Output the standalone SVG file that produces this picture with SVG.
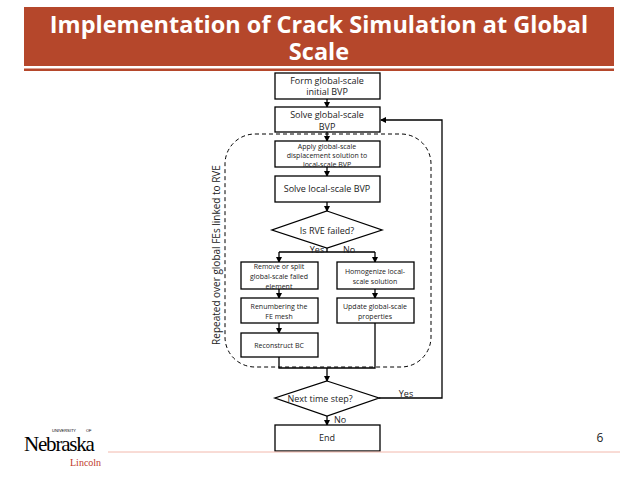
<svg xmlns="http://www.w3.org/2000/svg" width="638" height="478" viewBox="0 0 638 478">
<style>
.b{fill:#fff;stroke:#000;stroke-width:1.3}
.t{font-family:"Open Sans","Liberation Sans",sans-serif;fill:#222;text-anchor:middle}
.l{stroke:#000;stroke-width:1.3;fill:none}
</style>
<defs><marker id="a" markerWidth="6" markerHeight="6" refX="5" refY="3" orient="auto" markerUnits="userSpaceOnUse"><path d="M0,0L6,3L0,6z" fill="#000"/></marker></defs>
<rect width="638" height="478" fill="#fff"/>
<rect x="24" y="7" width="590" height="59" fill="#b5472b"/>
<rect x="24" y="68.5" width="590" height="2.5" fill="#b5472b"/>
<text x="319" y="33" font-family="'Open Sans','Liberation Sans',sans-serif" font-weight="bold" font-size="23.5" fill="#fff" text-anchor="middle">Implementation of Crack Simulation at Global</text>
<text x="319" y="60" font-family="'Open Sans','Liberation Sans',sans-serif" font-weight="bold" font-size="23.5" fill="#fff" text-anchor="middle">Scale</text>
<rect x="225" y="134" width="206" height="233" rx="30" fill="none" stroke="#000" stroke-dasharray="4,3"/>
<text transform="translate(220,255) rotate(-90)" class="t" font-size="10">Repeated over global FEs linked to RVE</text>
<g id="connectors">
<path class="l" d="M327,99V107" marker-end="url(#a)"/>
<path class="l" d="M327,132V141" marker-end="url(#a)"/>
<path class="l" d="M327,167V176" marker-end="url(#a)"/>
<path class="l" d="M327,202V211" marker-end="url(#a)"/>
<path class="l" d="M327,248V252M279,252H375"/>
<path class="l" d="M279,252V262" marker-end="url(#a)"/>
<path class="l" d="M375,252V262" marker-end="url(#a)"/>
<path class="l" d="M279,289V298" marker-end="url(#a)"/>
<path class="l" d="M375,289V298" marker-end="url(#a)"/>
<path class="l" d="M279,323V333" marker-end="url(#a)"/>
<path class="l" d="M279,357V368H375V323"/>
<path class="l" d="M327,368V381" marker-end="url(#a)"/>
<path class="l" d="M379,398H442V120H381" marker-end="url(#a)"/>
<path class="l" d="M327,416V425" marker-end="url(#a)"/>
<text x="317" y="253" class="t" font-size="9">Yes</text>
<text x="349" y="253" class="t" font-size="9">No</text>
<text x="406" y="397" class="t" font-size="9">Yes</text>
<text x="340" y="423" class="t" font-size="9">No</text>
</g>
<g id="form"><rect class="b" x="275" y="73" width="105" height="26"/><text class="t" x="327" y="84" font-size="9">Form global-scale</text><text class="t" x="327" y="95" font-size="9">initial BVP</text></g>
<g id="solveg"><rect class="b" x="275" y="107" width="105" height="25"/><text class="t" x="327" y="118" font-size="9">Solve global-scale</text><text class="t" x="327" y="129.5" font-size="9">BVP</text></g>
<g id="apply"><rect class="b" x="275" y="141" width="105" height="26"/><text class="t" x="327" y="149" font-size="7">Apply global-scale</text><text class="t" x="327" y="158" font-size="7">displacement solution to</text><text class="t" x="327" y="167" font-size="7">local-scale BVP</text></g>
<g id="solvel"><rect class="b" x="275" y="176" width="105" height="26"/><text class="t" x="327" y="192" font-size="9">Solve local-scale BVP</text></g>
<g id="rve"><path class="b" d="M327,211L382,230L327,248L272,230Z"/><text class="t" x="327" y="234" font-size="9">Is RVE failed?</text></g>
<g id="remove"><rect class="b" x="241" y="262" width="77" height="27"/><text class="t" x="279" y="269" font-size="7">Remove or split</text><text class="t" x="279" y="279" font-size="7">global-scale failed</text><text class="t" x="279" y="289" font-size="7">element</text></g>
<g id="homog"><rect class="b" x="337" y="262" width="77" height="27"/><text class="t" x="375" y="274" font-size="7">Homogenize local-</text><text class="t" x="375" y="284" font-size="7">scale solution</text></g>
<g id="renum"><rect class="b" x="241" y="298" width="77" height="25"/><text class="t" x="279" y="309" font-size="7">Renumbering the</text><text class="t" x="279" y="319" font-size="7">FE mesh</text></g>
<g id="update"><rect class="b" x="337" y="298" width="77" height="25"/><text class="t" x="375" y="309" font-size="7">Update global-scale</text><text class="t" x="375" y="319" font-size="7">properties</text></g>
<g id="recon"><rect class="b" x="241" y="333" width="77" height="24"/><text class="t" x="279" y="348" font-size="7">Reconstruct BC</text></g>
<g id="next"><path class="b" d="M327,381L379,398L327,416L275,398Z"/><text class="t" x="320" y="402" font-size="9">Next time step?</text></g>
<g id="end"><rect class="b" x="275" y="425" width="105" height="26"/><text class="t" x="327" y="441" font-size="9">End</text></g>
<line x1="108" y1="452" x2="620" y2="452" stroke="#f2b8ac" stroke-width="1"/>
<text x="600" y="442" class="t" font-size="12">6</text>
<text x="52" y="432" font-family="'Liberation Sans',sans-serif" font-size="4" fill="#000">UNIVERSITY</text>
<text x="86" y="432" font-family="'Liberation Sans',sans-serif" font-size="4" fill="#000">OF</text>
<text x="24" y="451" font-family="'Liberation Serif',serif" font-size="21" fill="#000" letter-spacing="-1.2">Nebraska</text>
<text x="70" y="466" font-family="'Liberation Serif',serif" font-size="10" fill="#c0392b">Lincoln</text>
</svg>
